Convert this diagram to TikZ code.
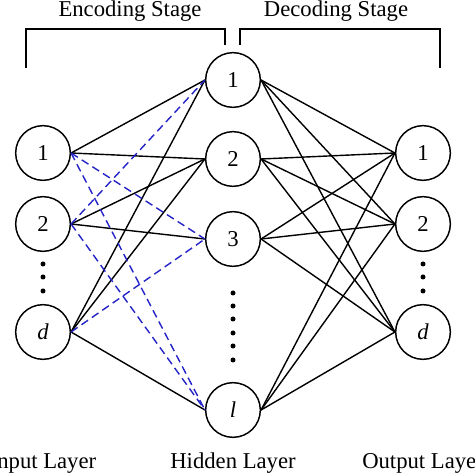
\documentclass[tikz,border=0pt]{standalone}
\usepackage{fontspec}
\setmainfont{Liberation Serif}
\usepackage{tikz}
\usetikzlibrary{arrows,shapes}
\definecolor{dashblue}{RGB}{35,35,200}
\newcommand{\neusize}{41pt}
\newcommand{\lwidth}{1.1pt}
\newcommand{\ewidth}{1.05pt}

\begin{document}
\begin{tikzpicture}[x=0.75pt,y=0.75pt]
    \tikzset{neuron/.style = {circle, draw, line width=\lwidth, minimum size=\neusize, inner sep=0pt, font=\fontsize{17}{20}\selectfont},
             caption/.style = {anchor=base, inner sep=0pt, font=\fontsize{17}{20}\selectfont},
             solidedge/.style = {line width=\ewidth},
             dashedge/.style = {dashblue, line width=\ewidth, dash pattern=on 6pt off 3.5pt}}
    \useasboundingbox (0,0) rectangle (474,474);
    \def\xin{43}
    \def\xhid{233}
    \def\xout{423}
    % input layer
    \node[neuron] (i1) at (\xin,321) {1};
    \node[neuron] (i2) at (\xin,250) {2};
    \node[neuron] (id) at (\xin,142) {\textit{d}};
    % hidden layer
    \node[neuron] (h1) at (\xhid,394) {1};
    \node[neuron] (h2) at (\xhid,315) {2};
    \node[neuron] (h3) at (\xhid,235) {3};
    \node[neuron] (hl) at (\xhid,64) {\textit{l}};
    % output layer
    \node[neuron] (o1) at (\xout,321) {1};
    \node[neuron] (o2) at (\xout,250) {2};
    \node[neuron] (od) at (\xout,142) {\textit{d}};
    % dots
    \foreach \y in {210,197,183}{
        \fill (\xin,\y) circle (2.5);
        \fill (\xout,\y) circle (2.5);
    }
    \foreach \y in {181,168,155,141,128,114}
        \fill (\xhid,\y) circle (2.5);
    % encoding
    \foreach \a/\b in {i1/h1,i1/h2,i2/h2,i2/h3,id/h1,id/h2,id/hl}
        \draw[solidedge] (\a.east) -- (\b.west);
    \foreach \a/\b in {i1/h3,i1/hl,i2/h1,i2/hl,id/h3}
        \draw[dashedge] (\a.east) -- (\b.west);
    % decoding
    \foreach \a in {h1,h2,h3,hl}
        \foreach \b in {o1,o2,od}
            \draw[solidedge] (\a.east) -- (\b.west);
    % stages
    \draw[line width=\lwidth] (26,406) -- (26,445) -- (225,445) -- (225,429);
    \draw[line width=\lwidth] (240,429) -- (240,445) -- (440,445) -- (440,406);
    \node[caption] (enc) at (130,457) {Encoding Stage};
    \node[caption] (dec) at (336,457) {Decoding Stage};
    % layers
    \node[caption] (lin) at (\xin,5) {Input Layer};
    \node[caption] (lhid) at (\xhid,5) {Hidden Layer};
    \node[caption] (lout) at (\xout,5) {Output Layer};
\end{tikzpicture}
\end{document}
